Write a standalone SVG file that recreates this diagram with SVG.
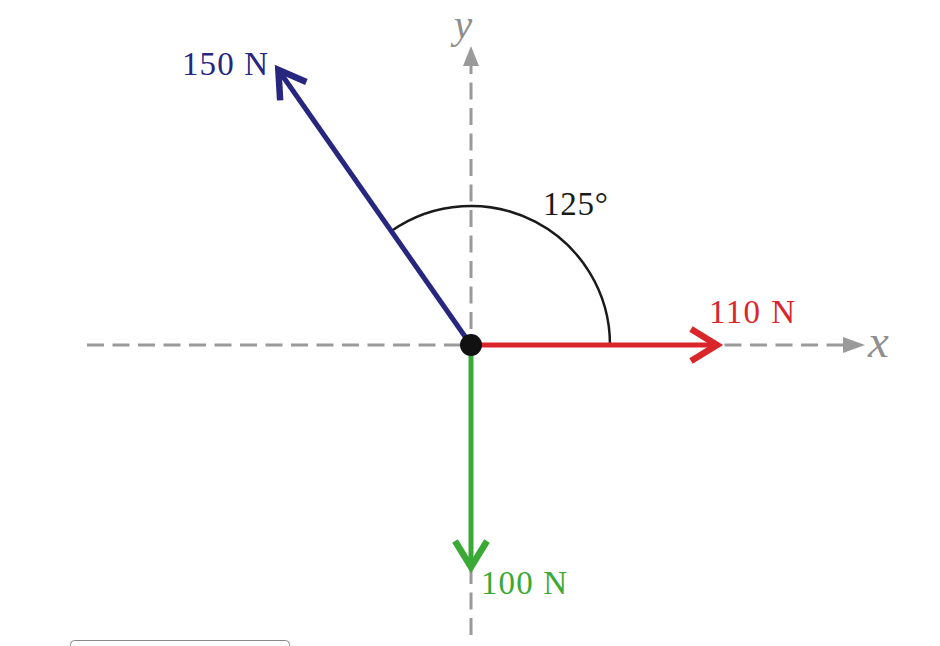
<svg xmlns="http://www.w3.org/2000/svg" width="940" height="646" viewBox="0 0 940 646">
  <style>
    .axis { stroke: #9a9a9a; stroke-width: 3; stroke-dasharray: 17 8.5; fill: none; }
    .axhead { fill: #9a9a9a; }
    .axlabel { font-family: "Liberation Serif", serif; font-style: italic; font-size: 47px; fill: #8f8f8f; }
    .lbl { font-family: "Liberation Serif", serif; font-size: 33px; }
    .force { stroke-width: 5; fill: none; }
  </style>
  <defs>
    <marker id="hBlue" markerUnits="userSpaceOnUse" viewBox="-32 -22 38 44" refX="0" refY="0" markerWidth="38" markerHeight="44" orient="auto" overflow="visible">
      <path d="M -24 -16 L 2 0 L -24 16" fill="none" stroke="#27277f" stroke-width="6.5"/>
    </marker>
    <marker id="hRed" markerUnits="userSpaceOnUse" viewBox="-32 -22 38 44" refX="0" refY="0" markerWidth="38" markerHeight="44" orient="auto" overflow="visible">
      <path d="M -24 -16 L 2 0 L -24 16" fill="none" stroke="#d9262b" stroke-width="6.5"/>
    </marker>
    <marker id="hGreen" markerUnits="userSpaceOnUse" viewBox="-32 -22 38 44" refX="0" refY="0" markerWidth="38" markerHeight="44" orient="auto" overflow="visible">
      <path d="M -24 -16 L 2 0 L -24 16" fill="none" stroke="#3aa936" stroke-width="6.5"/>
    </marker>
  </defs>
  <rect width="940" height="646" fill="#ffffff"/>

  <g id="axes">
    <line class="axis" x1="87" y1="345" x2="846" y2="345"/>
    <polygon class="axhead" points="865,345 843,337 843,353"/>
    <line class="axis" x1="471" y1="635" x2="471" y2="63"/>
    <polygon class="axhead" points="471,46 463,66 479,66"/>
    <text class="axlabel" x="868" y="357">x</text>
    <text class="axlabel" x="454" y="38" style="font-size:41px">y</text>
  </g>

  <g id="angle">
    <path d="M 391.3 231.1 A 139 139 0 0 1 610 345" fill="none" stroke="#1a1a1a" stroke-width="2.5"/>
    <text class="lbl" x="543" y="215" fill="#1a1a1a" textLength="65">125°</text>
  </g>

  <g id="connectors">
    <line id="f150" class="force" x1="471" y1="345" x2="279.5" y2="71.5" stroke="#27277f" marker-end="url(#hBlue)"/>
    <line id="f110" class="force" x1="471" y1="345" x2="715" y2="345" stroke="#d9262b" marker-end="url(#hRed)"/>
    <line id="f100" class="force" x1="471" y1="345" x2="471" y2="565" stroke="#3aa936" marker-end="url(#hGreen)"/>
  </g>

  <g id="origin">
    <circle cx="471" cy="345" r="11" fill="#111111"/>
  </g>

  <g id="label150">
    <text class="lbl" x="182" y="75" fill="#27277f" textLength="86">150 N</text>
  </g>
  <g id="label110">
    <text class="lbl" x="709" y="323" fill="#d9262b" textLength="86">110 N</text>
  </g>
  <g id="label100">
    <text class="lbl" x="481" y="594" fill="#3aa936" textLength="86">100 N</text>
  </g>

  <g id="box">
    <rect x="70.5" y="640.5" width="219" height="24" rx="4" fill="#ffffff" stroke="#888888" stroke-width="1"/>
  </g>
</svg>
